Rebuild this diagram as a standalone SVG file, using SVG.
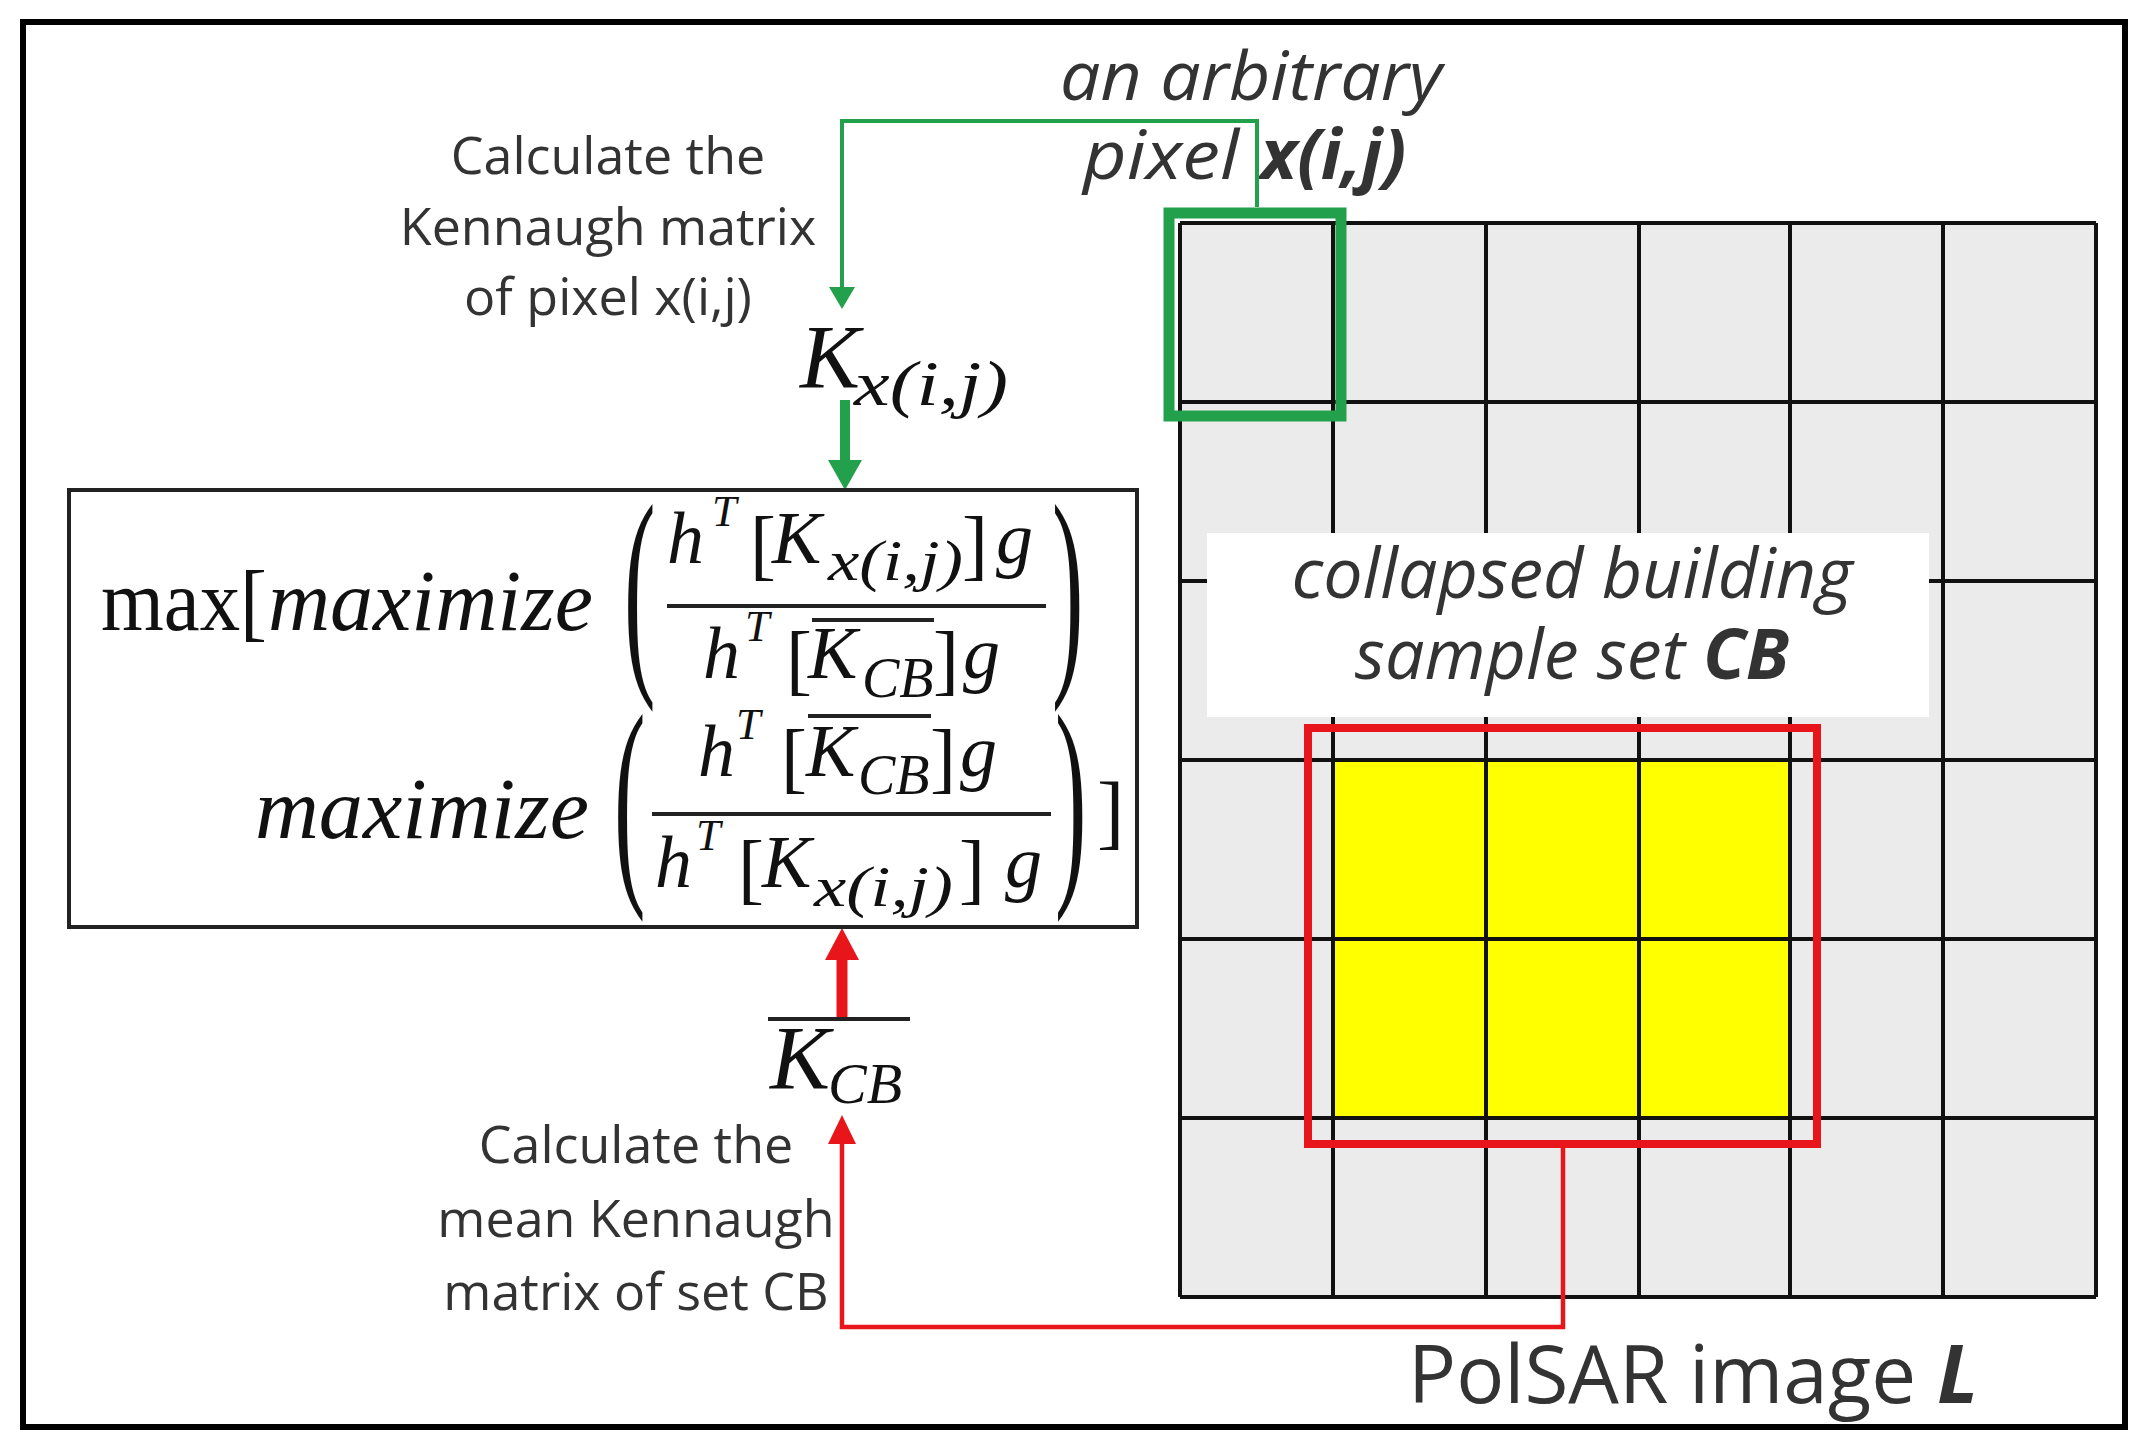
<svg xmlns="http://www.w3.org/2000/svg" width="2148" height="1456" viewBox="0 0 2148 1456">
<style>
.lbl{font-family:"Open Sans","Liberation Sans",sans-serif;fill:#333;}
.it{font-style:italic;}
.bd{font-weight:bold;}
.up{font-style:normal;}
.m{font-family:"Liberation Serif","Times New Roman",serif;fill:#111;}
.mi{font-style:italic;}
.gridline{fill:none;stroke:#111;stroke-width:4;}
.rule{stroke:#222;stroke-width:4;}
.green{fill:none;stroke:#22a04b;}
.red{fill:none;stroke:#e8161b;}
</style>
<defs>
<marker id="ahG1" markerUnits="userSpaceOnUse" markerWidth="22" markerHeight="26" viewBox="0 0 22 26" refX="0" refY="13" orient="auto"><path d="M0,0 L22,13 L0,26 Z" fill="#22a04b"/></marker>
<marker id="ahG2" markerUnits="userSpaceOnUse" markerWidth="30" markerHeight="34" viewBox="0 0 30 34" refX="0" refY="17" orient="auto"><path d="M0,0 L30,17 L0,34 Z" fill="#22a04b"/></marker>
<marker id="ahR1" markerUnits="userSpaceOnUse" markerWidth="32" markerHeight="34" viewBox="0 0 32 34" refX="0" refY="17" orient="auto"><path d="M0,0 L32,17 L0,34 Z" fill="#e8161b"/></marker>
<marker id="ahR2" markerUnits="userSpaceOnUse" markerWidth="29" markerHeight="28" viewBox="0 0 29 28" refX="0" refY="14" orient="auto"><path d="M0,0 L29,14 L0,28 Z" fill="#e8161b"/></marker>
</defs>
<rect x="0" y="0" width="2148" height="1456" fill="#fff"/>
<rect id="frame" x="23" y="22" width="2102" height="1405" fill="none" stroke="#000" stroke-width="6"/>

<g id="polsar-image">
<rect x="1180" y="223" width="916" height="1074" fill="#ebebeb"/>
<rect x="1333" y="760" width="457" height="358" fill="#ffff00"/>
<path class="gridline" d="M1180,223V1297M1333,223V1297M1486,223V1297M1639,223V1297M1790,223V1297M1943,223V1297M2096,223V1297M1180,223H2096M1180,402H2096M1180,581H2096M1180,760H2096M1180,939H2096M1180,1118H2096M1180,1297H2096"/>
<text class="lbl" x="1408" y="1403" font-size="80">PolSAR image <tspan class="it bd">L</tspan></text>
</g>

<g id="cb-label">
<rect x="1207" y="533" width="722" height="184" fill="#fff"/>
<text class="lbl it" font-size="70" text-anchor="middle"><tspan x="1572" y="598">collapsed building</tspan><tspan x="1572" y="679">sample set <tspan class="bd">CB</tspan></tspan></text>
</g>

<g id="cb-set">
<rect x="1308" y="728" width="509" height="416" fill="none" stroke="#e8161b" stroke-width="8"/>
</g>

<g id="pixel">
<rect x="1169" y="213" width="172" height="203" fill="none" stroke="#22a04b" stroke-width="11"/>
<text class="lbl it" font-size="68"><tspan x="1060" y="100" textLength="382" lengthAdjust="spacingAndGlyphs">an arbitrary</tspan><tspan x="1083" y="179" textLength="156" lengthAdjust="spacingAndGlyphs">pixel</tspan><tspan x="1260" y="179" class="bd" font-size="70">x(i,j)</tspan></text>
</g>

<g id="connectors">
<path class="green" stroke-width="4" d="M1257,207V121H842V287" marker-end="url(#ahG1)"/>
<path class="green" stroke-width="10" d="M845,400V460" marker-end="url(#ahG2)"/>
<path class="red" stroke-width="11" d="M842,1019V960" marker-end="url(#ahR1)"/>
<path class="red" stroke-width="4.5" d="M1563,1148V1327H842V1144" marker-end="url(#ahR2)"/>
</g>

<g id="label-kx">
<text class="lbl" font-size="52" text-anchor="middle"><tspan x="608" y="174">Calculate the</tspan><tspan x="608" y="245">Kennaugh matrix</tspan><tspan x="608" y="315">of pixel x(i,j)</tspan></text>
</g>

<g id="kx">
<text class="m mi" font-size="90"><tspan x="800" y="388">K</tspan><tspan x="854" y="405" font-size="64" textLength="154" lengthAdjust="spacingAndGlyphs">x(i,j)</tspan></text>
</g>

<g id="formula">
<rect x="69" y="490" width="1068" height="437" fill="#fff" stroke="#222" stroke-width="4"/>
<text class="m" font-size="86"><tspan x="101" y="630" textLength="166" lengthAdjust="spacingAndGlyphs">max[</tspan><tspan x="268" y="630" class="mi">maximize</tspan></text>
<text class="m" font-size="90" transform="translate(624,663) scale(1.05,2.55)">(</text>
<text class="m" font-size="90" transform="translate(1052,663) scale(1.05,2.55)">)</text>
<text class="m mi" font-size="74"><tspan x="667" y="563">h</tspan><tspan x="712" y="526" font-size="44">T</tspan><tspan x="750" y="571" font-size="78" class="up">[</tspan><tspan x="772" y="563">K</tspan><tspan x="828" y="580" font-size="56" textLength="135" lengthAdjust="spacingAndGlyphs">x(i,j)</tspan><tspan x="962" y="571" font-size="78" class="up">]</tspan><tspan x="996" y="563">g</tspan></text>
<line class="rule" x1="667" y1="606" x2="1046" y2="606"/>
<line class="rule" x1="812" y1="620" x2="934" y2="620" stroke-width="3.5"/>
<text class="m mi" font-size="74"><tspan x="703" y="678">h</tspan><tspan x="745" y="641" font-size="44">T</tspan><tspan x="786" y="686" font-size="78" class="up">[</tspan><tspan x="808" y="678">K</tspan><tspan x="862" y="697" font-size="56">CB</tspan><tspan x="933" y="686" font-size="78" class="up">]</tspan><tspan x="963" y="678">g</tspan></text>
<text class="m mi" x="255" y="838" font-size="86" textLength="334" lengthAdjust="spacingAndGlyphs">maximize</text>
<text class="m" font-size="90" transform="translate(614,873) scale(1.05,2.55)">(</text>
<text class="m" font-size="90" transform="translate(1055,873) scale(1.05,2.55)">)</text>
<line class="rule" x1="808" y1="716" x2="931" y2="716" stroke-width="3.5"/>
<text class="m mi" font-size="74"><tspan x="698" y="776">h</tspan><tspan x="736" y="739" font-size="44">T</tspan><tspan x="781" y="784" font-size="78" class="up">[</tspan><tspan x="806" y="776">K</tspan><tspan x="858" y="794" font-size="56">CB</tspan><tspan x="930" y="784" font-size="78" class="up">]</tspan><tspan x="960" y="776">g</tspan></text>
<line class="rule" x1="652" y1="814" x2="1051" y2="814"/>
<text class="m mi" font-size="74"><tspan x="655" y="887">h</tspan><tspan x="696" y="850" font-size="44">T</tspan><tspan x="738" y="895" font-size="78" class="up">[</tspan><tspan x="762" y="887">K</tspan><tspan x="814" y="906" font-size="56" textLength="139" lengthAdjust="spacingAndGlyphs">x(i,j)</tspan><tspan x="959" y="895" font-size="78" class="up">]</tspan><tspan x="1005" y="887">g</tspan></text>
<text class="m" x="1097" y="839" font-size="82">]</text>
</g>

<g id="kcb">
<line class="rule" x1="768" y1="1019" x2="910" y2="1019"/>
<text class="m mi" font-size="90"><tspan x="770" y="1089">K</tspan><tspan x="828" y="1103" font-size="58">CB</tspan></text>
</g>

<g id="label-kcb">
<text class="lbl" font-size="52" text-anchor="middle"><tspan x="636" y="1163">Calculate the</tspan><tspan x="636" y="1237">mean Kennaugh</tspan><tspan x="636" y="1310">matrix of set CB</tspan></text>
</g>
</svg>
